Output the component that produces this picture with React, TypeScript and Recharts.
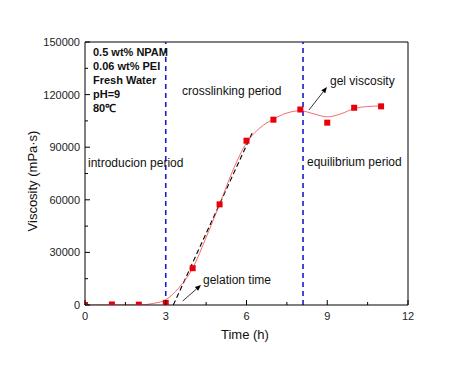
import React from "react";
import { ComposedChart, Line, Scatter, XAxis, YAxis, ReferenceLine } from "recharts";

// measured points
const timeHours = [0, 1, 2, 3, 4, 5, 6, 7, 8, 9, 10, 11];
const viscosity = [0, 300, 200, 1200, 21000, 57400, 93700, 105700, 111500, 104000, 112500, 113300];

// fitted curve
const fitTime = [0, 1, 2, 2.5, 3, 3.5, 4, 4.5, 5, 5.5, 6, 6.5, 7, 7.5, 8, 8.5, 9, 9.5, 10, 10.5, 11];
const fitViscosity = [
  0, 0, 0, 800, 3000, 10000, 21000, 38500, 57400, 77000, 92500, 101000, 106000, 109500,
  110800, 109000, 107300, 109000, 112000, 113200, 113500,
];

// gelation tangent line
const tangentTime = [3.28, 6.25];
const tangentViscosity = [0, 99400];

// period boundaries
const periodBounds = [3, 8.1];

// arrows [x1, y1, x2, y2]
const gelArrow = [8.32, 111200, 8.99, 124300];
const gelationArrow = [3.63, 2280, 4.31, 11400];

const xTicks = [0, 1.5, 3, 4.5, 6, 7.5, 9, 10.5, 12];
const yTicks = [0, 15000, 30000, 45000, 60000, 75000, 90000, 105000, 120000, 135000, 150000];

const conditions = ["0.5 wt% NPAM", "0.06 wt% PEI", "Fresh Water", "pH=9", "80\u2103"];

const pointData = timeHours.map((t, i) => ({ t, v: viscosity[i] }));
const fitData = fitTime.map((t, i) => ({ t, v: fitViscosity[i] }));

const font = "'Liberation Sans', Arial, sans-serif";
const red = "#e8000b";
const fitRed = "#f04848";
const blue = "#1c1cc8";

const XTick = (props: any) => {
  const { x, y, payload } = props;
  const axisY = y - 6;
  const major = payload.value % 3 === 0;
  return (
    <g>
      <line x1={x} x2={x} y1={axisY} y2={axisY - (major ? 5 : 3)} stroke="#000" />
      {major && (
        <text x={x} y={axisY + 15} textAnchor="middle" fontSize={11} fill="#222" fontFamily={font}>
          {payload.value}
        </text>
      )}
    </g>
  );
};

const YTick = (props: any) => {
  const { x, y, payload } = props;
  const axisX = x + 5;
  const major = payload.value % 30000 === 0;
  return (
    <g>
      <line x1={axisX} x2={axisX + (major ? 5 : 3)} y1={y} y2={y} stroke="#000" />
      {major && (
        <text x={axisX - 5} y={y + 4} textAnchor="end" fontSize={11} fill="#222" fontFamily={font}>
          {payload.value}
        </text>
      )}
    </g>
  );
};

const Square = (props: any) => {
  const { cx, cy } = props;
  return <rect x={cx - 3} y={cy - 3} width={6} height={6} fill={red} />;
};

const Arrow = (props: any) => {
  const { x1, y1, x2, y2 } = props;
  const ang = Math.atan2(y2 - y1, x2 - x1);
  const len = 6;
  const w = 2.5;
  const bx = x2 - len * Math.cos(ang);
  const by = y2 - len * Math.sin(ang);
  const px = -Math.sin(ang) * w;
  const py = Math.cos(ang) * w;
  return (
    <g>
      <line x1={x1} y1={y1} x2={bx} y2={by} stroke="#000" strokeWidth={0.8} />
      <polygon points={`${x2},${y2} ${bx + px},${by + py} ${bx - px},${by - py}`} fill="#000" />
    </g>
  );
};

const label = (left: number, top: number, text: string, extra: React.CSSProperties = {}) => (
  <div
    key={text}
    style={{
      position: "absolute",
      left,
      top,
      fontFamily: font,
      fontSize: 12,
      color: "#111",
      whiteSpace: "nowrap",
      lineHeight: 1,
      ...extra,
    }}
  >
    {text}
  </div>
);

export default function App() {
  return (
    <div style={{ position: "absolute", left: 0, top: 0, width: 474, height: 366, background: "#fff" }}>
      <ComposedChart width={474} height={366} margin={{ top: 42, right: 66, bottom: 31, left: 25 }}>
        <XAxis
          type="number"
          dataKey="t"
          domain={[0, 12]}
          ticks={xTicks}
          interval={0}
          tickSize={0}
          tickMargin={6}
          tickLine={false}
          tick={<XTick />}
          height={30}
          stroke="#000"
          allowDataOverflow
        />
        <YAxis
          type="number"
          dataKey="v"
          domain={[0, 150000]}
          ticks={yTicks}
          interval={0}
          tickSize={0}
          tickMargin={5}
          tickLine={false}
          tick={<YTick />}
          width={60}
          stroke="#000"
          allowDataOverflow
        />
        <ReferenceLine y={150000} stroke="#000" />
        <ReferenceLine x={12} stroke="#000" />
        {periodBounds.map((b) => (
          <ReferenceLine key={b} x={b} stroke={blue} strokeWidth={1.6} strokeDasharray="5 4" />
        ))}
        <ReferenceLine
          segment={[
            { x: tangentTime[0], y: tangentViscosity[0] },
            { x: tangentTime[1], y: tangentViscosity[1] },
          ]}
          stroke="#000"
          strokeWidth={1.1}
          strokeDasharray="5 3"
        />
        <Line
          data={fitData}
          dataKey="v"
          type="monotone"
          stroke={fitRed}
          strokeWidth={0.8}
          dot={false}
          isAnimationActive={false}
        />
        <Scatter data={pointData} dataKey="v" fill={red} shape={<Square />} isAnimationActive={false} />
        <ReferenceLine
          segment={[
            { x: gelArrow[0], y: gelArrow[1] },
            { x: gelArrow[2], y: gelArrow[3] },
          ]}
          shape={<Arrow />}
        />
        <ReferenceLine
          segment={[
            { x: gelationArrow[0], y: gelationArrow[1] },
            { x: gelationArrow[2], y: gelationArrow[3] },
          ]}
          shape={<Arrow />}
        />
      </ComposedChart>

      {conditions.map((c, i) =>
        label(93, 47 + i * 14, c, { fontWeight: "bold", fontSize: 11 })
      )}
      {label(88, 157, "introducion period")}
      {label(182, 85, "crosslinking period")}
      {label(330, 75, "gel viscosity")}
      {label(307, 156, "equilibrium period")}
      {label(203, 274, "gelation time")}
      {label(221, 328, "Time (h)", { fontSize: 13 })}
      <div
        style={{
          position: "absolute",
          left: 32,
          top: 181,
          transform: "translate(-50%, -50%) rotate(-90deg)",
          fontFamily: font,
          fontSize: 13,
          color: "#111",
          whiteSpace: "nowrap",
          lineHeight: 1,
        }}
      >
        Viscosity (mPa·s)
      </div>
    </div>
  );
}
